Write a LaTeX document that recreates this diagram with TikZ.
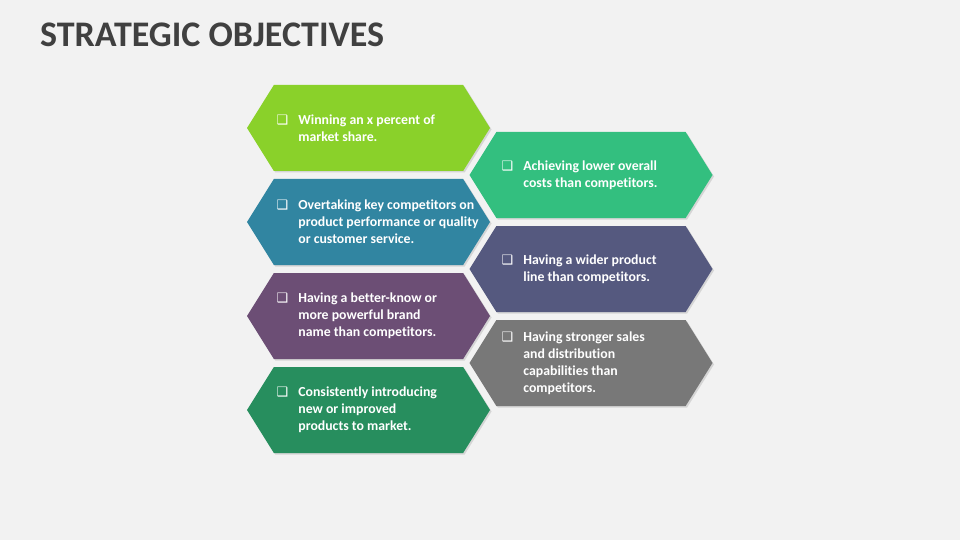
\documentclass[tikz,border=0pt]{standalone}
\usepackage{fontspec}
\setmainfont{Carlito}[Ligatures=NoCommon]
\newfontfamily\bulletfont{DejaVu Sans}
\usetikzlibrary{shapes.symbols,shadows}

\definecolor{bgcol}{HTML}{F2F2F2}
\definecolor{titlecol}{HTML}{404040}
\definecolor{limecol}{HTML}{8AD12A}
\definecolor{mintcol}{HTML}{33BF7F}
\definecolor{tealcol}{HTML}{3185A1}
\definecolor{slatecol}{HTML}{55597F}
\definecolor{plumcol}{HTML}{6C4E75}
\definecolor{greycol}{HTML}{787878}
\definecolor{forestcol}{HTML}{278E5E}

% bullet + hanging text block
\newcommand{\objitem}[1]{{\bulletfont\fontsize{13}{12}\selectfont\char"2751}\hspace{10pt}\parbox[t]{200pt}{\raggedright #1}}

\begin{document}
\begin{tikzpicture}[
        x=1pt, y=-1pt,
        hexbox/.style={shape=signal, signal to=east and west,
            signal pointer angle=116, minimum width=243pt, minimum height=86pt,
            inner sep=0pt, draw=none,
            drop shadow={opacity=0.25, shadow xshift=1.5pt, shadow yshift=-1.5pt}},
        objtext/.style={anchor=west, text=white, inner sep=0pt,
            font=\bfseries\fontsize{13.8}{17}\selectfont}
    ]
    \fill[bgcol] (0,0) rectangle (960,540);
    \useasboundingbox (0,0) rectangle (960,540);

    \node[anchor=west, inner sep=0pt, text=titlecol,
        font=\bfseries\fontsize{36}{40}\selectfont] (title) at (40,35)
        {STRATEGIC OBJECTIVES};

    % left column
    \node[hexbox, fill=limecol] (h1) at (368.5,128) {};
    \node[hexbox, fill=tealcol] (h3) at (368.5,222) {};
    \node[hexbox, fill=plumcol] (h5) at (368.5,316) {};
    \node[hexbox, fill=forestcol] (h7) at (368.5,410) {};
    % right column
    \node[hexbox, fill=mintcol] (h2) at (591,175) {};
    \node[hexbox, fill=slatecol] (h4) at (591,269) {};
    \node[hexbox, fill=greycol] (h6) at (591,363) {};

    \node[objtext] (t1) at ([xshift=-92pt]h1.center)
        {\objitem{Winning an x percent of\\market share.}};
    \node[objtext] (t3) at ([xshift=-92pt]h3.center)
        {\objitem{Overtaking key competitors on\\product performance or quality\\or customer service.}};
    \node[objtext] (t5) at ([xshift=-92pt]h5.center)
        {\objitem{Having a better-know or\\more powerful brand\\name than competitors.}};
    \node[objtext] (t7) at ([xshift=-92pt]h7.center)
        {\objitem{Consistently introducing\\new or improved\\products to market.}};
    \node[objtext] (t2) at ([xshift=-89.5pt]h2.center)
        {\objitem{Achieving lower overall\\costs than competitors.}};
    \node[objtext] (t4) at ([xshift=-89.5pt]h4.center)
        {\objitem{Having a wider product\\line than competitors.}};
    \node[objtext] (t6) at ([xshift=-89.5pt]h6.center)
        {\objitem{Having stronger sales\\and distribution\\capabilities than\\competitors.}};
\end{tikzpicture}
\end{document}
